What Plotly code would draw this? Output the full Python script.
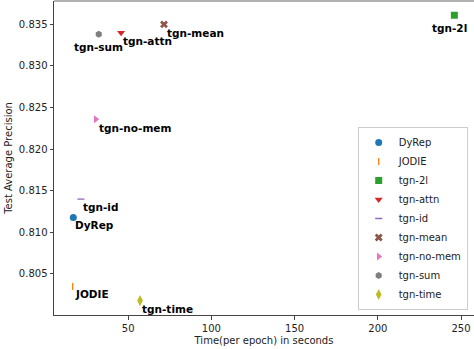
import plotly.graph_objects as go

methods = ["DyRep", "JODIE", "tgn-2l", "tgn-attn", "tgn-id", "tgn-mean", "tgn-no-mem", "tgn-sum", "tgn-time"]
time_per_epoch = [17.0, 16.6, 246.0, 45.7, 21.6, 71.5, 30.5, 32.3, 57.1]
avg_precision = [0.8118, 0.8035, 0.8361, 0.8340, 0.8140, 0.8350, 0.8236, 0.8338, 0.8018]

colors = ["#1f77b4", "#ff7f0e", "#2ca02c", "#d62728", "#9467bd", "#8c564b", "#e377c2", "#7f7f7f", "#bcbd22"]
symbols = ["circle", "line-ns", "square", "triangle-down", "line-ew", "x", "triangle-right", "hexagon", "diamond-tall"]
sizes = [7, 5, 7, 7, 5, 7, 7, 7, 8]
# label placement: (xanchor, xshift, yshift)
label_pos = [("left", 0, -8), ("left", 0, -8), ("center", -5, -13), ("left", 0, -8), ("left", 0, -8),
             ("left", 1, -9), ("left", 1, -9), ("center", 0, -13), ("left", 0, -8)]

fig = go.Figure()
for i, m in enumerate(methods):
    open_sym = symbols[i].startswith("line")
    fig.add_trace(go.Scatter(
        x=[time_per_epoch[i]], y=[avg_precision[i]], mode="markers", name=m,
        marker=dict(symbol=symbols[i], size=sizes[i], color=colors[i],
                    line=dict(width=1.3 if open_sym else 0, color=colors[i])),
    ))
    xa, xs, ys = label_pos[i]
    fig.add_annotation(x=time_per_epoch[i], y=avg_precision[i], text=m, showarrow=False,
                       xanchor=xa, yanchor="middle", xshift=xs, yshift=ys,
                       font=dict(family="DejaVu Sans", size=10.5, color="black", weight="bold"))

fig.update_layout(
    width=474, height=349,
    margin=dict(l=54, r=0, t=1, b=34),
    paper_bgcolor="white", plot_bgcolor="white",
    font=dict(family="DejaVu Sans", size=10, color="#222"),
    showlegend=True,
    legend=dict(x=0.985, xanchor="right", y=0.016, yanchor="bottom",
                bordercolor="#cccccc", borderwidth=1, bgcolor="rgba(255,255,255,0.8)",
                font=dict(size=10, color="#222"), tracegroupgap=0),
)
fig.update_xaxes(range=[5.4, 257.8], tickvals=[50, 100, 150, 200, 250],
                 ticks="outside", ticklen=3.5, tickcolor="#444", showgrid=False, zeroline=False,
                 showline=True, linecolor="#444", linewidth=1,
                 title=dict(text="Time(per epoch) in seconds", standoff=4, font=dict(size=10)))
fig.update_yaxes(range=[0.80007, 0.83781], tickvals=[0.805, 0.810, 0.815, 0.820, 0.825, 0.830, 0.835],
                 tickformat=".3f",
                 ticks="outside", ticklen=3.5, tickcolor="#444", showgrid=False, zeroline=False,
                 showline=True, linecolor="#444", linewidth=1, mirror=False,
                 title=dict(text="Test Average Precision", standoff=4, font=dict(size=10)))
# top spine (lighter)
fig.add_shape(type="line", xref="paper", yref="paper", x0=0, x1=1, y0=1, y1=1,
              line=dict(color="#999999", width=1.5))

fig.write_html("out.html")
